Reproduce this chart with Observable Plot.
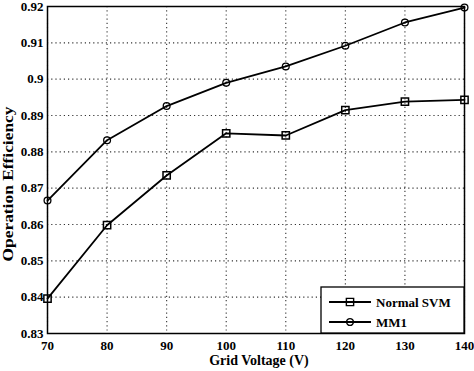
<!DOCTYPE html>
<html><head>
<meta charset="utf-8">
<script src="https://cdn.jsdelivr.net/npm/d3@7"></script>
<script src="https://cdn.jsdelivr.net/npm/@observablehq/plot@0.6"></script>
<style>body{margin:0;background:#fff}svg{display:block}</style>
</head><body><div id="chart"></div>
<script>
const voltages = [70, 80, 90, 100, 110, 120, 130, 140];
const normalSVM = [0.8396, 0.8598, 0.8735, 0.8851, 0.8845, 0.8915, 0.8938, 0.8943];
const mm1 = [0.8666, 0.8832, 0.8926, 0.8990, 0.9035, 0.9092, 0.9156, 0.9197];
const xTicks = [70, 80, 90, 100, 110, 120, 130, 140];
const yTicks = [0.83, 0.84, 0.85, 0.86, 0.87, 0.88, 0.89, 0.9, 0.91, 0.92];
const seriesNames = ["Normal SVM", "MM1"];
const symbols = ["square", "circle"];

const rows = voltages.flatMap((v, i) => [
  {v, eff: normalSVM[i], s: seriesNames[0]},
  {v, eff: mm1[i], s: seriesNames[1]}
]);
const font = "'Liberation Serif', 'Times New Roman', serif";

const chart = Plot.plot({
  width: 474, height: 371,
  marginLeft: 47, marginRight: 10, marginTop: 6, marginBottom: 38,
  style: {fontFamily: font, fontSize: "13px", fontWeight: "bold", background: "#fff", color: "#000"},
  x: {domain: [70, 140], ticks: xTicks},
  y: {domain: [0.83, 0.92], ticks: yTicks},
  marks: [
    Plot.gridX(xTicks, {stroke: "#000", strokeOpacity: 0.8, strokeDasharray: "1.2,3", strokeWidth: 1.1}),
    Plot.gridY(yTicks, {stroke: "#000", strokeOpacity: 0.8, strokeDasharray: "1.2,3", strokeWidth: 1.1}),
    Plot.line(rows, {x: "v", y: "eff", z: "s", stroke: "#000", strokeWidth: 1.8}),
    Plot.dot(rows.filter(d => d.s === seriesNames[0]), {x: "v", y: "eff", symbol: "square", r: 4.1, stroke: "#000", strokeWidth: 1.5, fill: "none"}),
    Plot.dot(rows.filter(d => d.s === seriesNames[1]), {x: "v", y: "eff", symbol: "circle", r: 3.4, stroke: "#000", strokeWidth: 1.3, fill: "none"}),
    Plot.frame({stroke: "#000", strokeWidth: 1.5}),
    Plot.axisX(xTicks, {tickSize: 0, tickPadding: 7, label: null, fontSize: 13, fontWeight: "bold", fontFamily: font}),
    Plot.axisY(yTicks, {tickSize: 0, tickPadding: 4, tickFormat: d3.format("~g"), label: null, fontSize: 13, fontWeight: "bold", fontFamily: font})
  ]
});

const svg = d3.select(chart);
svg.append("text")
  .attr("x", 259).attr("y", 365)
  .attr("text-anchor", "middle")
  .attr("font-family", font).attr("font-size", 14).attr("font-weight", "bold")
  .text("Grid Voltage (V)");
svg.append("text")
  .attr("transform", "translate(13,184) rotate(-90)")
  .attr("text-anchor", "middle")
  .attr("font-family", font).attr("font-size", 14).attr("font-weight", "bold")
  .attr("textLength", 155).attr("lengthAdjust", "spacingAndGlyphs")
  .text("Operation Efficiency");

// legend
const lg = svg.append("g");
lg.append("rect").attr("x", 321).attr("y", 287).attr("width", 143).attr("height", 46)
  .attr("fill", "#fff").attr("stroke", "#000").attr("stroke-width", 1.3);
seriesNames.forEach((name, i) => {
  const y = 302 + i * 20;
  lg.append("line").attr("x1", 329).attr("x2", 371).attr("y1", y).attr("y2", y)
    .attr("stroke", "#000").attr("stroke-width", 1.8);
  const sym = d3.symbol(symbols[i] === "square" ? d3.symbolSquare : d3.symbolCircle,
    symbols[i] === "square" ? Math.PI * 4.1 * 4.1 : Math.PI * 3.4 * 3.4)();
  lg.append("path").attr("d", sym).attr("transform", `translate(350,${y})`)
    .attr("fill", "none").attr("stroke", "#000").attr("stroke-width", 1.4);
  lg.append("text").attr("x", 376).attr("y", y + 5)
    .attr("text-anchor", "start")
    .attr("font-family", font).attr("font-size", 13).attr("font-weight", "bold")
    .text(name);
});

document.getElementById("chart").appendChild(chart);
</script>
</body></html>
